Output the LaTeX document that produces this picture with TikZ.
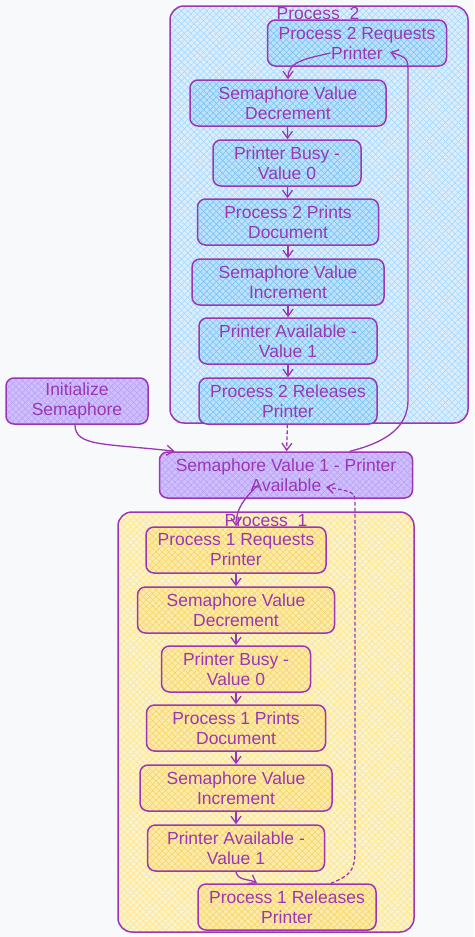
\documentclass[tikz,border=0pt]{standalone}
\usepackage{fontspec}
\setmainfont{Liberation Sans}
\usetikzlibrary{arrows.meta,patterns.meta}
\definecolor{grape}{HTML}{9C36B5}
\definecolor{bgcol}{HTML}{F8F9FA}
\definecolor{blueA}{HTML}{DCEEFC}
\definecolor{blueB}{HTML}{A5D8FF}
\definecolor{blueC}{HTML}{7CC2F2}
\definecolor{yelA}{HTML}{FBF3CC}
\definecolor{yelB}{HTML}{FFE58A}
\definecolor{yelC}{HTML}{F2D56A}
\definecolor{violA}{HTML}{D0BFFF}
\definecolor{violB}{HTML}{B9A2F5}
\begin{document}
\begin{tikzpicture}[x=1pt,y=1pt,>={Straight Barb[length=7pt,width=10pt]}, font=\fontsize{17.5}{20}\selectfont, line join=round, line cap=round,
	hatch/.style 2 args={preaction={fill=#1}, preaction={pattern={Lines[angle=45,distance=4.5pt,line width=0.6pt]}, pattern color=#2}, preaction={pattern={Lines[angle=-45,distance=4.5pt,line width=0.6pt]}, pattern color=#2}},
	box/.style={draw=grape, line width=1.5pt, rounded corners=8pt, align=center, text=grape, minimum height=46pt, inner sep=2pt},
	bluebox/.style={box, hatch={blueB!75}{blueC}},
	yelbox/.style={box, hatch={yelB!75}{yelC}},
	violbox/.style={box, hatch={violA}{violB}},
	link/.style={draw=grape, line width=1.3pt, ->}]
	\def\w{474} \def\h{937}
	\fill[bgcol] (0,0) rectangle (\w,-\h);
	\useasboundingbox (0,0) rectangle (\w,-\h);
	% Process 2
	\draw[grape, line width=1.5pt, rounded corners=14pt, hatch={blueA}{blueB}] (170,-6) rectangle (468,-423);
	\node[text=grape] (lab2) at (318,-15) {Process\_2};
	\node[bluebox, minimum width=179pt] (p2req) at (357,-43) {Process 2 Requests\\Printer};
	\node[bluebox, minimum width=196pt] (p2dec) at (288,-103) {Semaphore Value\\Decrement};
	\node[bluebox, minimum width=148pt] (p2busy) at (287,-163) {Printer Busy -\\Value 0};
	\node[bluebox, minimum width=181pt] (p2prt) at (288,-222) {Process 2 Prints\\Document};
	\node[bluebox, minimum width=192pt] (p2inc) at (288,-282) {Semaphore Value\\Increment};
	\node[bluebox, minimum width=178pt] (p2avl) at (288,-341) {Printer Available -\\Value 1};
	\node[bluebox, minimum width=178pt] (p2rel) at (288,-401) {Process 2 Releases\\Printer};
	% Process 1
	\draw[grape, line width=1.5pt, rounded corners=14pt, hatch={yelA}{yelB}] (118,-512) rectangle (414,-932);
	\node[text=grape] (lab1) at (266,-522) {Process\_1};
	\node[yelbox, minimum width=180pt] (p1req) at (236,-550) {Process 1 Requests\\Printer};
	\node[yelbox, minimum width=197pt] (p1dec) at (236,-610) {Semaphore Value\\Decrement};
	\node[yelbox, minimum width=149pt] (p1busy) at (236,-669) {Printer Busy -\\Value 0};
	\node[yelbox, minimum width=179pt] (p1prt) at (236,-728) {Process 1 Prints\\Document};
	\node[yelbox, minimum width=192pt] (p1inc) at (236,-788) {Semaphore Value\\Increment};
	\node[yelbox, minimum width=177pt] (p1avl) at (236,-848) {Printer Available -\\Value 1};
	\node[yelbox, minimum width=178pt] (p1rel) at (287,-907) {Process 1 Releases\\Printer};
	% shared
	\node[violbox, minimum width=142pt] (init) at (77,-401) {Initialize\\Semaphore};
	\node[violbox, minimum width=253pt] (semval) at (286,-475) {Semaphore Value 1 - Printer\\Available};
	% edges
	\draw[link] ([shift={(-27,-10)}]p2req.center) to[out=195,in=90] (p2dec.north);
	\draw[link] (p2dec) -- (p2busy);
	\draw[link] (p2busy) -- (p2prt);
	\draw[link] (p2prt) -- (p2inc);
	\draw[link] (p2inc) -- (p2avl);
	\draw[link] (p2avl) -- (p2rel);
	\draw[link, dashed] (p2rel) -- (semval);
	\draw[link] ([xshift=-2pt]init.south) .. controls +(0,-22) and +(-70,8) .. ([xshift=16pt]semval.north west);
	\draw[link] ([xshift=64pt]semval.north) .. controls +(40,10) and +(0,-25) .. (408,-400) -- (408,-75) .. controls (408,-58) .. ([shift={(33,-9)}]p2req.center);
	\draw[link] ([shift={(-28,-10)}]semval.center) to[out=225,in=90] (p1req.north);
	\draw[link] (p1req) -- (p1dec);
	\draw[link] (p1dec) -- (p1busy);
	\draw[link] (p1busy) -- (p1prt);
	\draw[link] (p1prt) -- (p1inc);
	\draw[link] (p1inc) -- (p1avl);
	\draw[link] (p1avl.south) to[out=-80,in=150] ([xshift=-30pt]p1rel.north);
	\draw[link, dashed] ([xshift=44pt]p1rel.north) .. controls +(20,8) and +(0,-20) .. (355,-850) -- (355,-505) .. controls (355,-492) .. ([shift={(40,-12)}]semval.center);
\end{tikzpicture}
\end{document}
